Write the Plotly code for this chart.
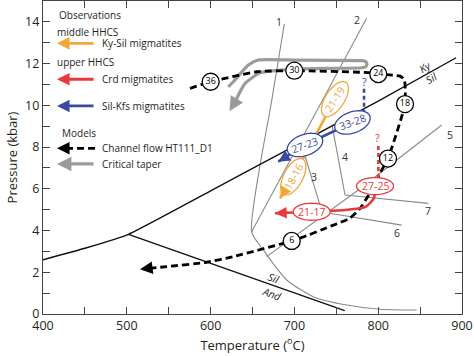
import math
import plotly.graph_objects as go

# ---------------- data (T in degC, P in kbar) ----------------
X_TICKS = [400, 450, 500, 550, 600, 650, 700, 750, 800, 850, 900]
X_TICKTEXT = ["400", "", "500", "", "600", "", "700", "", "800", "", "900"]
Y_TICKS = list(range(0, 16))
Y_TICKTEXT = [str(v) if v % 2 == 0 and v <= 14 else "" for v in Y_TICKS]

# Aluminosilicate triple point lines
KYSIL_T = [400, 450, 502, 600, 700, 800, 893]
KYSIL_P = [2.60, 3.15, 3.82, 5.90, 8.05, 10.20, 12.28]
SILAND_T = [502, 600, 700, 760]
SILAND_P = [3.82, 2.42, 1.02, 0.16]

# Reaction curves 1-7 (thin grey)
R1_T = [688.0, 673.0, 649.0, 662.9, 690.8, 722.6, 762.4, 802.1, 845.9]
R1_P = [13.90, 10.25, 3.94, 3.07, 1.63, 0.83, 0.43, 0.23, 0.19]
R2_T = [786.2, 649.0]
R2_P = [14.17, 3.94]
R3_T = [711.0, 733.0]
R3_P = [7.80, 4.89]
R4_T = [744.9, 760.4]
R4_P = [9.06, 5.70]
R5_T = [666.9, 776.3, 875.8]
R5_P = [2.75, 5.94, 9.06]
R6_T = [733.0, 828.0]
R6_P = [4.89, 4.26]
R7_T = [760.4, 859.8]
R7_P = [5.70, 5.30]
R_LABELS = ["1", "2", "3", "4", "5", "6", "7"]
R_LABEL_T = [682.0, 774.3, 723.4, 760.4, 885.7, 822.1, 859.8]
R_LABEL_P = [14.00, 14.09, 6.55, 7.54, 8.58, 3.87, 4.95]

# Channel flow HT111_D1 path
CF_T = [575.4, 600.1, 655.0, 699.9, 792.2, 800.1, 826.0, 831.0, 832.0, 832.0, 811.7, 804.2,
        792.2, 778.3, 766.3, 746.4, 706.7, 696.8, 627.1, 595.3, 547.6, 524.0]
CF_P = [10.81, 11.13, 11.61, 11.66, 11.56, 11.50, 11.40, 11.25, 11.00, 10.06, 7.45, 6.90,
        5.94, 5.06, 4.59, 4.26, 3.63, 3.50, 2.75, 2.48, 2.27, 2.18]
CF_TIP = (515.8, 2.14)
CF_MARK_LABELS = ["36", "30", "24", "18", "12", "6"]
CF_MARK_T = [600.1, 699.9, 800.1, 832.0, 811.7, 696.8]
CF_MARK_P = [11.13, 11.66, 11.50, 10.06, 7.45, 3.50]

# Critical taper path
CT_T = [621.1, 627.1, 645.0, 656.9, 700.0, 780.7, 785.0, 786.6, 785.0, 780.7, 700.0, 659.0, 641.1, 629.0]
CT_P = [10.89, 11.13, 11.93, 12.17, 12.17, 12.14, 12.10, 11.97, 11.85, 11.80, 11.74, 11.56, 11.05, 10.15]
CT_TIP = (622.5, 9.72)

# Observed migmatite paths
KYSIL_ELL_LABELS = ["21-19", "18-16"]
KYSIL_ELL_T = [748.4, 698.7]
KYSIL_ELL_P = [10.30, 6.58]
KYSIL_TIP = (682.8, 5.54)

SILKFS_ELL_LABELS = ["33-28", "27-23"]
SILKFS_ELL_T = [769.3, 712.6]
SILKFS_ELL_P = [9.18, 8.10]
SILKFS_TIP = (680.8, 7.30)
SILKFS_Q_T = [783.1, 783.1]
SILKFS_Q_P = [10.80, 9.70]
SILKFS_Q_LABEL = (784.2, 11.12)

CRD_ELL_LABELS = ["27-25", "21-17"]
CRD_ELL_T = [796.2, 720.6]
CRD_ELL_P = [6.13, 4.90]
CRD_CURVE_T = [796.2, 795.0, 785.4, 766.3, 743.7, 720.6]
CRD_CURVE_P = [6.13, 5.56, 5.15, 5.01, 4.94, 4.90]
CRD_TIP = (676.8, 4.83)
CRD_Q_T = [800.2, 800.2]
CRD_Q_P = [8.05, 6.50]
CRD_Q_LABEL = (798.6, 8.45)

# Legend (drawn inside the plot)
LEG_TIP_T = 416.7
LEG_TAIL_T = 462.1
LEG_TEXT_T = 467.5
LEG_ARROW_P = [12.97, 11.25, 9.97, 7.94, 7.19]
LEG_ARROW_TEXT = ["Ky-Sil migmatites", "Crd migmatites", "Sil-Kfs migmatites",
                  "Channel flow HT111_D1", "Critical taper"]
LEG_HEAD_TEXT = ["Observations", "middle HHCS", "upper HHCS", "Models"]
LEG_HEAD_T = [416.7, 414.3, 414.3, 420.3]
LEG_HEAD_P = [14.33, 13.53, 12.09, 8.69]

# ---------------- styles ----------------
FONT = "Open Sans"
ORANGE = "#F3A63A"
RED = "#E83A3A"
BLUE = "#3A4AA3"
GREY_PATH = "#9B9B9B"
GREY_LINE = "#8A8A8A"
TXT = "#231F20"
HEAD_SIZE = 0.9

fig = go.Figure()


def line(x, y, color, width, dash=None, shape="linear", smoothing=1.0):
    fig.add_trace(go.Scatter(x=x, y=y, mode="lines", hoverinfo="skip", showlegend=False,
                             line=dict(color=color, width=width, dash=dash, shape=shape,
                                       smoothing=smoothing)))


# reaction curves
for rt, rp in [(R1_T, R1_P), (R2_T, R2_P), (R3_T, R3_P), (R4_T, R4_P), (R5_T, R5_P), (R6_T, R6_P), (R7_T, R7_P)]:
    line(rt, rp, GREY_LINE, 1.1, shape="spline" if len(rt) > 3 else "linear", smoothing=0.6)

# aluminosilicate
line(KYSIL_T, KYSIL_P, "#111111", 1.4, shape="spline", smoothing=0.4)
line(SILAND_T, SILAND_P, "#111111", 1.4)

# critical taper
line(CT_T, CT_P, GREY_PATH, 3.2, shape="spline", smoothing=0.5)

# channel flow
line(CF_T, CF_P, "#000000", 2.8, dash="7px,4px", shape="spline", smoothing=0.5)

# observed paths (lines under ellipses)
line(KYSIL_ELL_T + [KYSIL_TIP[0]], KYSIL_ELL_P + [KYSIL_TIP[1]], ORANGE, 2.6)
line(SILKFS_ELL_T + [SILKFS_TIP[0]], SILKFS_ELL_P + [SILKFS_TIP[1]], BLUE, 2.6)
line(SILKFS_Q_T, SILKFS_Q_P, BLUE, 2.6, dash="4px,3px")
line(CRD_CURVE_T + [CRD_TIP[0]], CRD_CURVE_P + [CRD_TIP[1]], RED, 2.6, shape="spline", smoothing=0.6)
line(CRD_Q_T, CRD_Q_P, RED, 2.6, dash="4px,3px")

# numbered circles on the channel flow path
fig.add_trace(go.Scatter(x=CF_MARK_T, y=CF_MARK_P, mode="markers+text", text=CF_MARK_LABELS,
                         textposition="middle center", hoverinfo="skip", showlegend=False,
                         textfont=dict(family=FONT, size=9, color="#000"),
                         marker=dict(size=17, color="white", line=dict(color="#000", width=1.3))))

# legend dashed line
for p in LEG_ARROW_P[3:4]:
    line([LEG_TAIL_T, LEG_TIP_T + 6], [p, p], "#000000", 2.8, dash="7px,4px")


def ellipse_path(a, b, ang, n=60):
    th = math.radians(ang)
    pts = []
    for i in range(n):
        t = 2 * math.pi * i / n
        x = a * math.cos(t) * math.cos(th) - b * math.sin(t) * math.sin(th)
        y = a * math.cos(t) * math.sin(th) + b * math.sin(t) * math.cos(th)
        pts.append(f"{x:.2f},{y:.2f}")
    return "M " + " L ".join(pts) + " Z"


shapes = []
annotations = []


def ellipse(cx, cy, label, color, a, b, ang):
    shapes.append(dict(type="path", xref="x", yref="y", xsizemode="pixel", ysizemode="pixel",
                       xanchor=cx, yanchor=cy, path=ellipse_path(a, b, ang),
                       fillcolor="white", line=dict(color=color, width=1.3), layer="above"))
    annotations.append(dict(x=cx, y=cy, xref="x", yref="y", text=label, showarrow=False,
                            textangle=-ang, font=dict(family=FONT, size=10.5, color=color)))


for (t, p, lab), ang in zip(zip(KYSIL_ELL_T, KYSIL_ELL_P, KYSIL_ELL_LABELS), [57, 62]):
    ellipse(t, p, lab, ORANGE, 20, 9.5, ang)
for t, p, lab in zip(SILKFS_ELL_T, SILKFS_ELL_P, SILKFS_ELL_LABELS):
    ellipse(t, p, lab, BLUE, 18.5, 10.5, 20)
for t, p, lab in zip(CRD_ELL_T, CRD_ELL_P, CRD_ELL_LABELS):
    ellipse(t, p, lab, RED, 18.5, 8.5, 0)


def head(tip, tail, color, width=2.6, size=HEAD_SIZE):
    annotations.append(dict(x=tip[0], y=tip[1], ax=tail[0], ay=tail[1], xref="x", yref="y",
                            axref="x", ayref="y", showarrow=True, arrowhead=2, arrowsize=size,
                            arrowwidth=width, arrowcolor=color, text=""))


def towards(tip, prev, frac):
    return (tip[0] + (prev[0] - tip[0]) * frac, tip[1] + (prev[1] - tip[1]) * frac)


head(KYSIL_TIP, towards(KYSIL_TIP, (KYSIL_ELL_T[1], KYSIL_ELL_P[1]), 0.4), ORANGE)
head(SILKFS_TIP, towards(SILKFS_TIP, (SILKFS_ELL_T[1], SILKFS_ELL_P[1]), 0.4), BLUE)
head(CRD_TIP, towards(CRD_TIP, (CRD_ELL_T[1], CRD_ELL_P[1]), 0.4), RED)
head(CF_TIP, (CF_T[-1], CF_P[-1]), "#000000", width=2.8)
head(CT_TIP, (CT_T[-1], CT_P[-1]), GREY_PATH, width=3.2)

# question marks
annotations.append(dict(x=SILKFS_Q_LABEL[0], y=SILKFS_Q_LABEL[1], text="?", showarrow=False,
                        font=dict(family=FONT, size=11, color=BLUE)))
annotations.append(dict(x=CRD_Q_LABEL[0], y=CRD_Q_LABEL[1], text="?", showarrow=False,
                        font=dict(family=FONT, size=11, color=RED)))

# reaction labels
for lab, t, p in zip(R_LABELS, R_LABEL_T, R_LABEL_P):
    annotations.append(dict(x=t, y=p, text=lab, showarrow=False,
                            font=dict(family=FONT, size=10.5, color="#333")))

# mineral field labels
for txt, t, p, ang in [("Ky", 855.8, 11.85, -32), ("Sil", 863.8, 11.29, -32),
                       ("Sil", 674.8, 1.71, 20), ("And", 672.9, 0.96, 20)]:
    annotations.append(dict(x=t, y=p, text=f"<i>{txt}</i>", showarrow=False, textangle=ang,
                            font=dict(family=FONT, size=10.5, color=TXT)))

# legend
leg_colors = [ORANGE, RED, BLUE, "#000000", GREY_PATH]
for p, txt, col in zip(LEG_ARROW_P, LEG_ARROW_TEXT, leg_colors):
    if col == "#000000":
        head((LEG_TIP_T, p), (LEG_TIP_T + 9, p), col, width=2.8)
    else:
        head((LEG_TIP_T, p), (LEG_TAIL_T, p), col, width=3.2 if col == GREY_PATH else 2.8)
    annotations.append(dict(x=LEG_TEXT_T, y=p, text=txt, showarrow=False, xanchor="left",
                            font=dict(family=FONT, size=10, color=TXT)))
for txt, t, p in zip(LEG_HEAD_TEXT, LEG_HEAD_T, LEG_HEAD_P):
    annotations.append(dict(x=t, y=p, text=txt, showarrow=False, xanchor="left",
                            font=dict(family=FONT, size=10, color=TXT)))

axis_common = dict(showline=True, linecolor="#444", linewidth=1.3, mirror="ticks",
                   ticks="inside", ticklen=7, tickwidth=1.1, tickcolor="#444",
                   showgrid=False, zeroline=False, automargin=False,
                   ticklabeloverflow="allow",
                   tickfont=dict(family=FONT, size=12.5, color=TXT))

fig.update_layout(
    template="none",
    width=474, height=356,
    margin=dict(l=43, r=12, t=1, b=42, autoexpand=False),
    paper_bgcolor="white", plot_bgcolor="white",
    shapes=shapes, annotations=annotations, showlegend=False,
    xaxis=dict(range=[400, 900], tickvals=X_TICKS, ticktext=X_TICKTEXT,
               title=dict(text="Temperature (<sup>o</sup>C)", standoff=4,
                          font=dict(family=FONT, size=13, color=TXT)), **axis_common),
    yaxis=dict(range=[0, 15], tickvals=Y_TICKS, ticktext=Y_TICKTEXT,
               title=dict(text="Pressure (kbar)", standoff=4,
                          font=dict(family=FONT, size=13, color=TXT)), **axis_common),
)

fig.write_html("out.html", config={"displayModeBar": False},
               post_script="document.body.style.margin='0';document.body.style.overflow='hidden';")
